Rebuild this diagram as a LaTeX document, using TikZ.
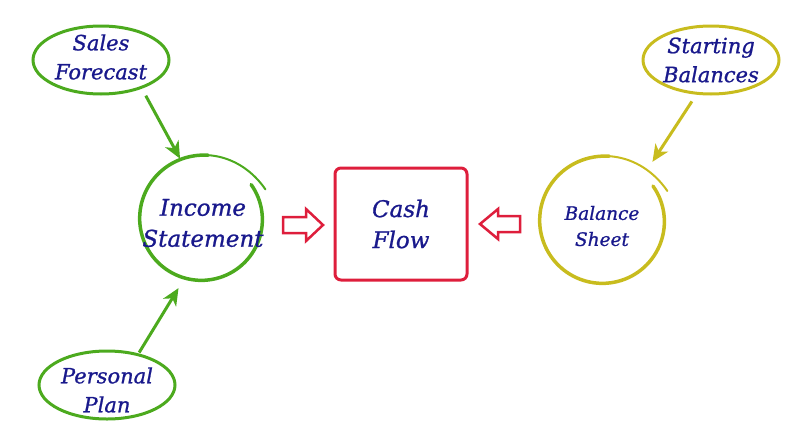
\documentclass[tikz,border=0pt]{standalone}
\usepackage{fontspec}
\setmainfont{DejaVu Serif}
\newfontfamily\lblfont{DejaVu Serif Italic}[FakeBold=1]
\usetikzlibrary{arrows.meta,shapes.geometric}
\definecolor{gr}{RGB}{76,170,30}
\definecolor{ye}{RGB}{200,188,30}
\definecolor{rd}{RGB}{222,30,60}
\definecolor{tx}{RGB}{25,25,140}
\begin{document}
\begin{tikzpicture}[x=1pt,y=-1pt,
  lbl/.style={text=tx,font=\lblfont\fontsize{21}{29}\selectfont,align=center},
  big/.style={text=tx,font=\lblfont\fontsize{23}{31}\selectfont,align=center},
  small/.style={text=tx,font=\lblfont\fontsize{18.5}{26}\selectfont,align=center},
  oval/.style={ellipse,draw,line width=3pt,minimum width=136pt,minimum height=68pt,inner sep=0pt},
  ring/.style={circle,minimum size=#1,inner sep=0pt},
  conn/.style={line width=3pt,-{Stealth[length=17pt,width=15pt,inset=5pt]}},
  hollow/.style={draw=rd,line width=2.5pt,line join=miter,fill=white},
  declare function={rr(\p)=4*\p+6*\p^12; aa(\p)=35-370*\p;}]
\useasboundingbox (0,0) rectangle (800,442);

% ellipses
\node[oval,draw=gr] (sales) at (101,60) {};
\node[lbl] (salesT) at (101,57) {Sales\\Forecast};
\node[oval,draw=gr] (pers) at (107,385) {};
\node[lbl] (persT) at (107,390) {Personal\\Plan};
\node[oval,draw=ye] (start) at (711,60) {};
\node[lbl] (startT) at (711,60) {Starting\\Balances};

% income statement ring
\node[ring=128pt] (incC) at (202,219) {};
\draw[gr,line width=3.5pt,line cap=round] plot[domain=0:0.84,samples=90,variable=\p]
  ({202+(60+rr(\p))*cos(aa(\p))},{219-(60+rr(\p))*sin(aa(\p))});
\draw[gr,line width=2pt,line cap=round] plot[domain=0.83:1,samples=30,variable=\p]
  ({202+(60+rr(\p))*cos(aa(\p))},{219-(60+rr(\p))*sin(aa(\p))});
\node[big] (inc) at (203,223) {Income\\Statement};

% balance sheet ring
\node[ring=132pt] (balC) at (603,221) {};
\draw[ye,line width=3.5pt,line cap=round] plot[domain=0:0.84,samples=90,variable=\p]
  ({603+(61+rr(\p))*cos(aa(\p))},{221-(61+rr(\p))*sin(aa(\p))});
\draw[ye,line width=2pt,line cap=round] plot[domain=0.83:1,samples=30,variable=\p]
  ({603+(61+rr(\p))*cos(aa(\p))},{221-(61+rr(\p))*sin(aa(\p))});
\node[small] (bal) at (602,226) {Balance\\Sheet};

% cash flow
\node[draw=rd,line width=3pt,rounded corners=6pt,minimum width=132pt,minimum height=112pt,big] (cash) at (401,224) {Cash\\Flow};

% connectors
\draw[conn,gr,shorten <=8pt] (sales.-35) -- (incC.110);
\draw[conn,gr,shorten <=1pt,shorten >=9pt] (pers.45) -- (incC.-107);
\draw[conn,ye,shorten <=8pt,shorten >=11pt] (start.-113) -- (balC.49);

% hollow arrows
\draw[hollow] (283,217) -- (306,217) -- (306,209) -- (323,225) -- (306,241) -- (306,233) -- (283,233) -- cycle;
\draw[hollow] (520,216) -- (498,216) -- (498,209) -- (480,224) -- (498,239) -- (498,232) -- (520,232) -- cycle;
\end{tikzpicture}
\end{document}
